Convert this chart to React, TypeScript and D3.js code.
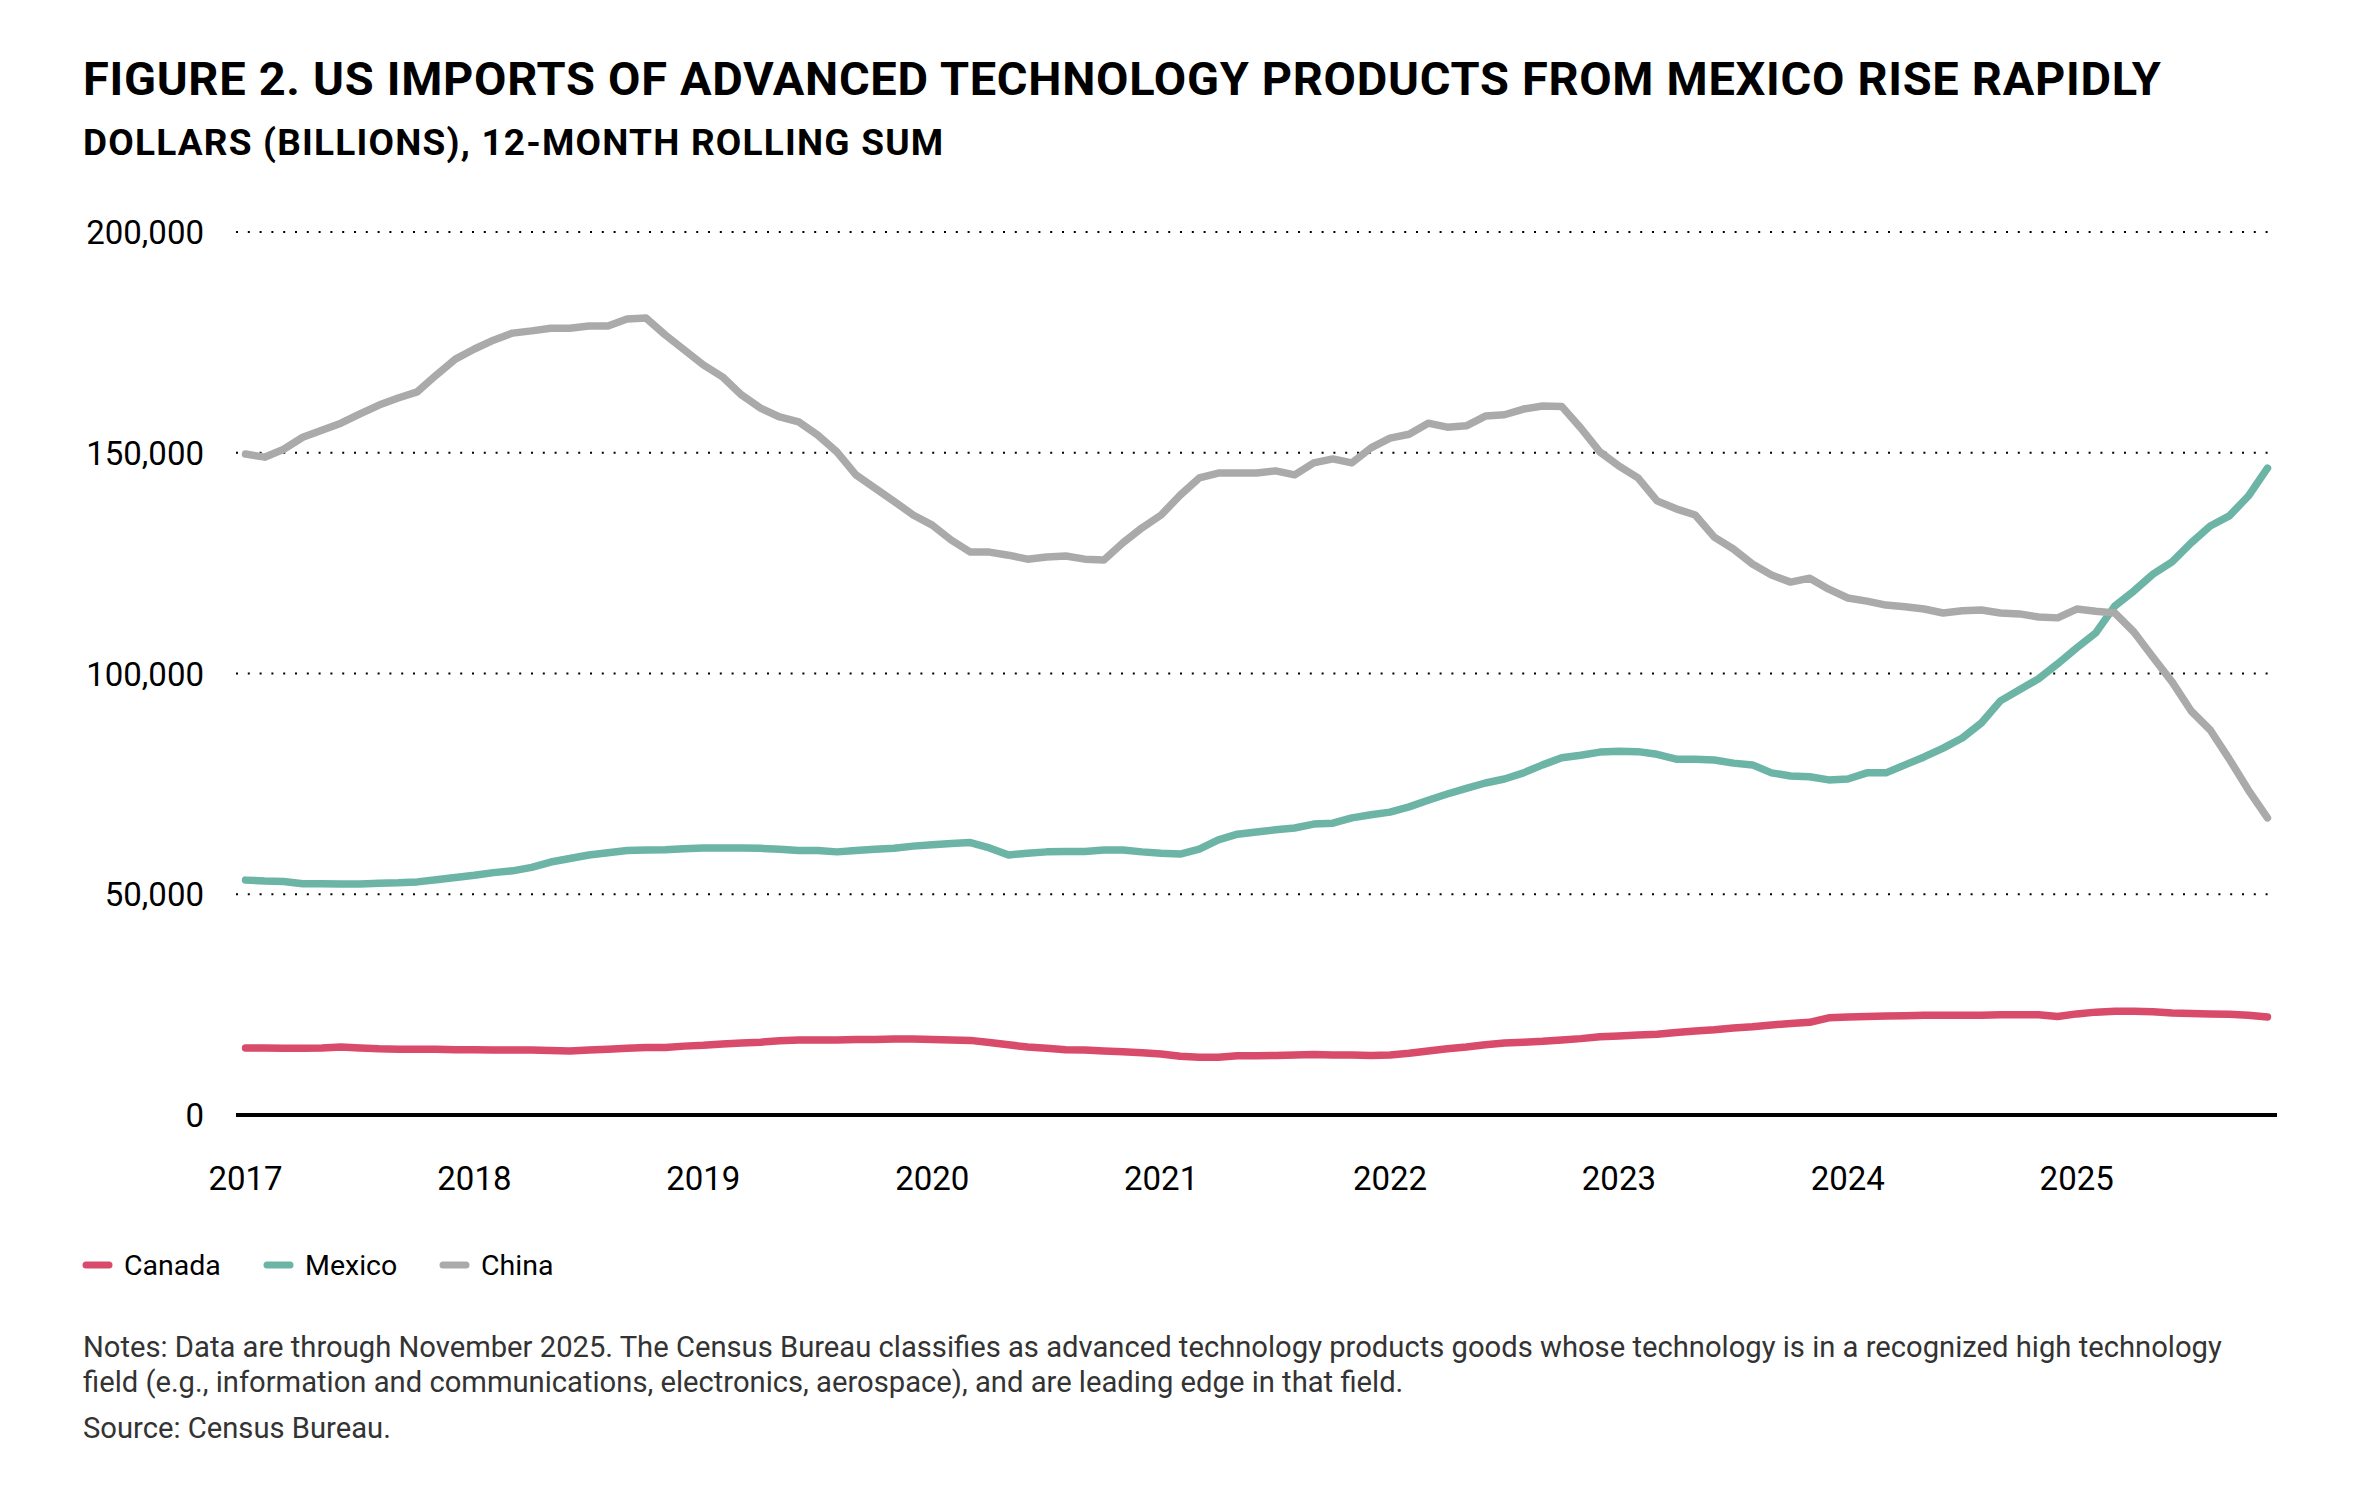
import React from 'react';
import * as d3 from 'd3';

// 12-month rolling sums, millions of dollars, Jan 2017 .. Nov 2025
const years = ['2017', '2018', '2019', '2020', '2021', '2022', '2023', '2024', '2025'];

const canada = [
  15200, 15200, 15100, 15100, 15200, 15400, 15200, 15000, 14900, 14900, 14900, 14800,
  14800, 14700, 14700, 14700, 14600, 14500, 14700, 14900, 15100, 15300, 15300, 15600,
  15800, 16100, 16300, 16500, 16800, 17000, 17000, 17000, 17100, 17100, 17200, 17200,
  17100, 17000, 16900, 16400, 15900, 15400, 15100, 14800, 14700, 14500, 14300, 14100,
  13800, 13300, 13100, 13100, 13400, 13400, 13500, 13600, 13700, 13600, 13600, 13500,
  13600, 14000, 14500, 15000, 15400, 15900, 16300, 16500, 16700, 17000, 17300, 17700,
  17900, 18100, 18300, 18700, 19000, 19300, 19700, 20000, 20400, 20700, 21000, 22000,
  22200, 22300, 22400, 22500, 22600, 22600, 22600, 22600, 22700, 22700, 22700, 22300,
  22900, 23300, 23500, 23500, 23400, 23100, 23000, 22900, 22800, 22600, 22200
];

const mexico = [
  53200, 53000, 52900, 52400, 52400, 52300, 52300, 52500, 52600, 52800, 53300, 53800,
  54300, 54900, 55300, 56100, 57300, 58100, 58900, 59400, 59900, 60000, 60100, 60300,
  60500, 60500, 60500, 60400, 60200, 59900, 59900, 59600, 59900, 60200, 60400, 60900,
  61200, 61500, 61700, 60500, 58900, 59300, 59600, 59700, 59700, 60000, 60000, 59600,
  59300, 59100, 60200, 62300, 63600, 64100, 64600, 65000, 65900, 66100, 67300, 68000,
  68600, 69800, 71300, 72700, 74000, 75200, 76100, 77500, 79300, 80900, 81500, 82200,
  82400, 82300, 81700, 80600, 80600, 80400, 79700, 79300, 77500, 76800, 76600, 75900,
  76100, 77500, 77500, 79300, 81100, 83100, 85400, 88800, 93800, 96300, 98800, 102200,
  105800, 109200, 115300, 118700, 122500, 125300, 129600, 133400, 135700, 140200, 146500
];

const china = [
  149700, 149000, 150800, 153500, 155100, 156700, 158800, 160800, 162400, 163800, 167600, 171200,
  173500, 175500, 177100, 177600, 178200, 178200, 178700, 178700, 180300, 180500, 176700, 173300,
  169900, 167200, 163100, 160100, 158100, 157000, 154000, 150200, 145000, 142000, 139000, 135900,
  133600, 130200, 127500, 127500, 126800, 125900, 126400, 126600, 125900, 125700, 129600, 133000,
  135900, 140400, 144300, 145400, 145400, 145400, 145900, 145000, 147700, 148600, 147700, 151100,
  153300, 154200, 156700, 155800, 156100, 158300, 158600, 159900, 160600, 160500, 155600, 150200,
  147000, 144300, 139100, 137300, 135900, 130900, 128200, 124800, 122300, 120700, 121600, 119100,
  117100, 116400, 115500, 115100, 114600, 113700, 114200, 114400, 113700, 113500, 112800, 112600,
  114600, 114100, 113700, 109400, 103700, 98100, 91500, 87200, 80600, 73600, 67300
];

const yTicks = [0, 50000, 100000, 150000, 200000];

const seriesNames = ['Canada', 'Mexico', 'China'];
const seriesColors = ['#d84b6a', '#6cb4a5', '#aaaaaa'];

const W = 2360;
const H = 1504;
const FONT = 'Roboto, sans-serif';

const App = () => {
  const series = [canada, mexico, china];

  const x = d3.scaleLinear()
    .domain([-0.5, canada.length - 0.5])
    .range([236, 2277]);

  const y = d3.scaleLinear()
    .domain([0, 200000])
    .range([1115, 232]);

  const line = d3.line<number>()
    .x((d, i) => x(i))
    .y(d => y(d));

  const fmt = d3.format(',');

  const grid = yTicks.filter(t => t > 0).map((t, i) => (
    <line key={i} x1={x.range()[0]} x2={x.range()[1]} y1={y(t)} y2={y(t)}
      stroke="#000" strokeWidth={2} strokeDasharray="2 9.8" />
  ));

  const yLabels = yTicks.map((t, i) => (
    <text key={i} x={204} y={y(t) + 12} textAnchor="end"
      fontSize={33} fill="#000">{fmt(t)}</text>
  ));

  const xLabels = years.map((yr, i) => (
    <text key={i} x={x(i * 12)} y={1190} textAnchor="middle"
      fontSize={33} fill="#000">{yr}</text>
  ));

  const paths = series.map((s, i) => (
    <path key={i} d={line(s) || ''} fill="none" stroke={seriesColors[i]}
      strokeWidth={7.5} strokeLinejoin="round" strokeLinecap="round" />
  ));

  const legendX = [83, 264, 440];
  const legend = seriesNames.map((n, i) => (
    <g key={i} transform={'translate(' + legendX[i] + ',1265)'}>
      <line x1={3} x2={26} y1={0} y2={0} stroke={seriesColors[i]}
        strokeWidth={7} strokeLinecap="round" />
      <text x={41} y={10} fontSize={28.5} fill="#000">{n}</text>
    </g>
  ));

  return (
    <div style={{ position: 'absolute', left: 0, top: 0 }}>
      <svg width={W} height={H} fontFamily={FONT} style={{ display: 'block', background: '#fff' }}>
        <rect width={W} height={H} fill="#fff" />
        <text x={83} y={95} fontSize={47} fontWeight={700} fill="#000" letterSpacing={0.7}>
          FIGURE 2. US IMPORTS OF ADVANCED TECHNOLOGY PRODUCTS FROM MEXICO RISE RAPIDLY
        </text>
        <text x={83} y={155} fontSize={37} fontWeight={700} fill="#000" letterSpacing={1.2}>
          DOLLARS (BILLIONS), 12-MONTH ROLLING SUM
        </text>

        {grid}
        <line x1={x.range()[0]} x2={x.range()[1]} y1={y(0)} y2={y(0)}
          stroke="#000" strokeWidth={4} />
        {yLabels}
        {xLabels}
        {paths}
        {legend}

        <text x={83} y={1357} fontSize={29.2} fill="#333">
          Notes: Data are through November 2025. The Census Bureau classifies as advanced technology products goods whose technology is in a recognized high technology
        </text>
        <text x={83} y={1392} fontSize={29.2} fill="#333">
          field (e.g., information and communications, electronics, aerospace), and are leading edge in that field.
        </text>
        <text x={83} y={1438} fontSize={29.2} fill="#333">
          Source: Census Bureau.
        </text>
      </svg>
    </div>
  );
};

export default App;
